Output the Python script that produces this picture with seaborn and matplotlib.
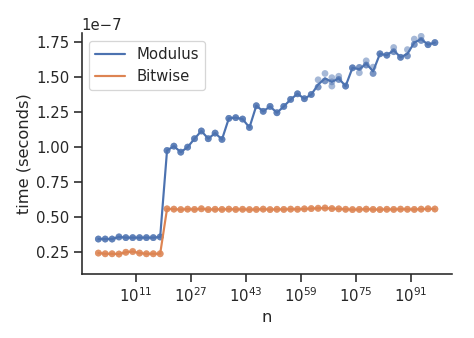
import numpy as np
import pandas as pd
import matplotlib
matplotlib.use("Agg")
import matplotlib.pyplot as plt
from matplotlib.ticker import NullLocator
import seaborn as sns

# Input sizes: n = 10**0, 10**2, ..., 10**98
exponents = list(range(0, 100, 2))

# Timings per call, in units of 1e-7 s, three repeated runs per method
modulus_run_a = [0.345, 0.345, 0.345, 0.362, 0.355, 0.355, 0.355, 0.355, 0.355, 0.360,
                 0.976, 1.007, 0.964, 1.000, 1.060, 1.115, 1.060, 1.100, 1.055, 1.205,
                 1.210, 1.200, 1.140, 1.295, 1.255, 1.290, 1.245, 1.290, 1.340, 1.380,
                 1.345, 1.375, 1.428, 1.472, 1.465, 1.482, 1.435, 1.565, 1.568, 1.585,
                 1.525, 1.665, 1.655, 1.680, 1.640, 1.650, 1.732, 1.760, 1.730, 1.745]
modulus_run_b = [0.345, 0.345, 0.345, 0.360, 0.355, 0.355, 0.355, 0.355, 0.355, 0.360,
                 0.976, 1.007, 0.964, 1.000, 1.060, 1.115, 1.060, 1.100, 1.055, 1.205,
                 1.210, 1.200, 1.140, 1.295, 1.255, 1.290, 1.245, 1.290, 1.340, 1.380,
                 1.345, 1.375, 1.428, 1.472, 1.435, 1.482, 1.435, 1.565, 1.568, 1.585,
                 1.525, 1.665, 1.655, 1.680, 1.640, 1.650, 1.732, 1.760, 1.730, 1.745]
modulus_run_c = [0.345, 0.345, 0.345, 0.358, 0.355, 0.355, 0.355, 0.355, 0.355, 0.360,
                 0.976, 1.007, 0.964, 1.000, 1.060, 1.115, 1.060, 1.100, 1.055, 1.205,
                 1.210, 1.200, 1.140, 1.295, 1.255, 1.290, 1.245, 1.290, 1.340, 1.380,
                 1.345, 1.375, 1.480, 1.525, 1.495, 1.505, 1.435, 1.565, 1.530, 1.615,
                 1.570, 1.665, 1.655, 1.710, 1.640, 1.695, 1.770, 1.790, 1.730, 1.745]

bitwise_run_a = [0.245, 0.240, 0.240, 0.238, 0.250, 0.255, 0.245, 0.240, 0.240, 0.240,
                 0.560, 0.558, 0.555, 0.558, 0.556, 0.560, 0.555, 0.557, 0.556, 0.558,
                 0.556, 0.557, 0.555, 0.556, 0.558, 0.555, 0.557, 0.556, 0.558, 0.557,
                 0.560, 0.562, 0.563, 0.565, 0.562, 0.560, 0.557, 0.555, 0.556, 0.558,
                 0.556, 0.555, 0.557, 0.556, 0.558, 0.557, 0.556, 0.558, 0.560, 0.559]
bitwise_run_b = [0.245, 0.240, 0.240, 0.238, 0.250, 0.255, 0.245, 0.240, 0.240, 0.240,
                 0.560, 0.558, 0.555, 0.558, 0.556, 0.560, 0.555, 0.557, 0.556, 0.558,
                 0.556, 0.557, 0.555, 0.556, 0.558, 0.555, 0.557, 0.556, 0.558, 0.557,
                 0.560, 0.562, 0.563, 0.565, 0.562, 0.560, 0.557, 0.555, 0.556, 0.558,
                 0.556, 0.555, 0.557, 0.556, 0.558, 0.557, 0.556, 0.558, 0.560, 0.559]
bitwise_run_c = [0.245, 0.240, 0.240, 0.238, 0.252, 0.258, 0.245, 0.240, 0.240, 0.240,
                 0.560, 0.558, 0.555, 0.558, 0.556, 0.562, 0.555, 0.557, 0.556, 0.558,
                 0.556, 0.557, 0.555, 0.556, 0.558, 0.555, 0.557, 0.556, 0.558, 0.557,
                 0.560, 0.562, 0.566, 0.568, 0.562, 0.560, 0.557, 0.555, 0.556, 0.558,
                 0.556, 0.555, 0.557, 0.556, 0.558, 0.557, 0.556, 0.558, 0.562, 0.559]

methods = ["Modulus", "Bitwise"]
runs = {
    "Modulus": [modulus_run_a, modulus_run_b, modulus_run_c],
    "Bitwise": [bitwise_run_a, bitwise_run_b, bitwise_run_c],
}

rows = []
for method in methods:
    for run in runs[method]:
        for e, t in zip(exponents, run):
            rows.append({"n": 10.0 ** e, "time": t * 1e-7, "method": method})
df = pd.DataFrame(rows)

sns.set_theme(style="ticks", context="notebook", font_scale=1.06)

dpi = 92
fig = plt.figure(figsize=(474 / dpi, 338 / dpi), dpi=dpi)
ax = fig.add_axes([0.172, 0.189, 0.953 - 0.172, 0.901 - 0.189])

palette = sns.color_palette("deep", 2)
sns.lineplot(data=df, x="n", y="time", hue="method", hue_order=methods,
             palette=palette, errorbar=None, linewidth=1.7, ax=ax)
sns.scatterplot(data=df, x="n", y="time", hue="method", hue_order=methods,
                palette=palette, alpha=0.5, s=28, linewidth=0, legend=False, ax=ax)

ax.set_xscale("log")
ax.set_xticks([1e11, 1e27, 1e43, 1e59, 1e75, 1e91])
ax.xaxis.set_minor_locator(NullLocator())
ax.set_ylim(0.095e-7, 1.81e-7)
ax.set_xlabel("n")
ax.set_ylabel("time (seconds)")

leg = ax.legend(loc="upper left")
leg.set_title(None)

sns.despine(ax=ax)
fig.savefig("out.png", dpi=dpi)
